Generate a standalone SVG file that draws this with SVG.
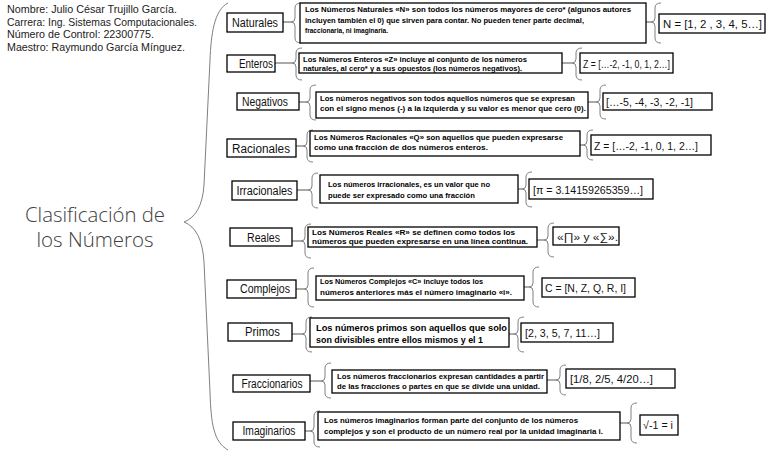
<svg xmlns="http://www.w3.org/2000/svg" width="768" height="452" viewBox="0 0 768 452">
<style>
.bx{fill:#fff;stroke:#000;stroke-width:1.3}
.lt{font-family:"Liberation Sans",Arial,sans-serif;font-size:12px;fill:#111;text-anchor:middle}
.dt{font-family:"Liberation Sans",Arial,sans-serif;font-size:7px;font-weight:bold;fill:#000}
.pt{font-family:"Liberation Sans",Arial,sans-serif;font-size:9.5px;font-weight:bold;fill:#000}
.rt{font-family:"Liberation Sans",Arial,sans-serif;font-size:11px;fill:#111}
.hd{font-family:"Liberation Sans",Arial,sans-serif;font-size:10.5px;fill:#222}
.tt{font-family:"Open Sans","Liberation Sans",sans-serif;font-size:20px;font-weight:300;fill:#404040;text-anchor:middle}
.br{fill:none;stroke:#808080;stroke-width:1}
.tk{fill:none;stroke:#555;stroke-width:1}
</style>
<rect width="768" height="452" fill="#fff"/>
<g id="header">
<text class="hd" x="7" y="13" textLength="170" lengthAdjust="spacingAndGlyphs">Nombre: Julio César Trujillo García.</text>
<text class="hd" x="7" y="25.5" textLength="190" lengthAdjust="spacingAndGlyphs">Carrera: Ing. Sistemas Computacionales.</text>
<text class="hd" x="7" y="38" textLength="147" lengthAdjust="spacingAndGlyphs">Número de Control: 22300775.</text>
<text class="hd" x="7" y="50.5" textLength="178" lengthAdjust="spacingAndGlyphs">Maestro: Raymundo García Mínguez.</text>
</g>
<g id="title">
<text class="tt" x="95" y="222" textLength="140" lengthAdjust="spacingAndGlyphs">Clasificación de</text>
<text class="tt" x="95" y="247" textLength="117" lengthAdjust="spacingAndGlyphs">los Números</text>
</g>
<g id="connectors">
<path class="br" d="M228,3 C214,10 211,35 210,60 L204,185 Q202,215 184,222 Q202,229 204,262 L210,392 C211,425 214,442 228,450"/>
<path class="br" d="M301,3 Q295,3 295,8 V18 Q295,22 291,22 Q295,22 295,26 V38 Q295,43 301,43"/><path class="tk" d="M283,22 H291"/>
<path class="br" d="M661,3 Q655,3 655,8 V18 Q655,22 651,22 Q655,22 655,26 V38 Q655,43 661,43"/><path class="tk" d="M646,22 H651"/>
<path class="br" d="M302,48 Q296,48 296,53 V59 Q296,63 292,63 Q296,63 296,67 V75 Q296,80 302,80"/><path class="tk" d="M275,63 H292"/>
<path class="br" d="M582,48 Q576,48 576,53 V59 Q576,63 572,63 Q576,63 576,67 V75 Q576,80 582,80"/><path class="tk" d="M562,63 H572"/>
<path class="br" d="M316,85 Q310,85 310,90 V98 Q310,102 306,102 Q310,102 310,106 V115 Q310,120 316,120"/><path class="tk" d="M299,102 H306"/>
<path class="br" d="M606,85 Q600,85 600,90 V98 Q600,102 596,102 Q600,102 600,106 V114 Q600,119 606,119"/><path class="tk" d="M588,102 H596"/>
<path class="br" d="M313,130 Q307,130 307,135 V142 Q307,146 303,146 Q307,146 307,150 V157 Q307,162 313,162"/><path class="tk" d="M296,146 H303"/>
<path class="br" d="M593,130 Q587,130 587,135 V141 Q587,145 583,145 Q587,145 587,149 V155 Q587,160 593,160"/><path class="tk" d="M580,145 H583"/>
<path class="br" d="M318,173 Q312,173 312,178 V186 Q312,190 308,190 Q312,190 312,194 V203 Q312,208 318,208"/><path class="tk" d="M297,190 H308"/>
<path class="br" d="M532,172 Q526,172 526,177 V185 Q526,189 522,189 Q526,189 526,193 V202 Q526,207 532,207"/><path class="tk" d="M518,189 H522"/>
<path class="br" d="M311,224 Q305,224 305,229 V237 Q305,241 301,241 Q305,241 305,245 V253 Q305,258 311,258"/><path class="tk" d="M292,241 H301"/>
<path class="br" d="M554,223 Q548,223 548,228 V236 Q548,240 544,240 Q548,240 548,244 V252 Q548,257 554,257"/><path class="tk" d="M537,240 H544"/>
<path class="br" d="M314,268 Q308,268 308,273 V285 Q308,289 304,289 Q308,289 308,293 V302 Q308,307 314,307"/><path class="tk" d="M296,289 H304"/>
<path class="br" d="M539,267 Q533,267 533,272 V283 Q533,287 529,287 Q533,287 533,291 V302 Q533,307 539,307"/><path class="tk" d="M524,287 H529"/>
<path class="br" d="M312,317 Q306,317 306,322 V330 Q306,334 302,334 Q306,334 306,338 V347 Q306,352 312,352"/><path class="tk" d="M292,334 H302"/>
<path class="br" d="M524,317 Q518,317 518,322 V330 Q518,334 514,334 Q518,334 518,338 V347 Q518,352 524,352"/><path class="tk" d="M509,334 H514"/>
<path class="br" d="M331,363 Q325,363 325,368 V377 Q325,381 321,381 Q325,381 325,385 V393 Q325,398 331,398"/><path class="tk" d="M310,381 H321"/>
<path class="br" d="M566,365 Q560,365 560,370 V376 Q560,380 556,380 Q560,380 560,384 V390 Q560,395 566,395"/><path class="tk" d="M547,380 H556"/>
<path class="br" d="M320,411 Q314,411 314,416 V427 Q314,431 310,431 Q314,431 314,435 V442 Q314,447 320,447"/><path class="tk" d="M305,431 H310"/>
<path class="br" d="M637,403 Q631,403 631,408 V419 Q631,423 627,423 Q631,423 631,427 V438 Q631,443 637,443"/><path class="tk" d="M620,423 H627"/>
</g>
<g id="naturales">
<rect class="bx" x="227" y="13" width="56" height="19"/>
<text class="lt" x="255" y="26.5" textLength="46" lengthAdjust="spacingAndGlyphs">Naturales</text>
</g>
<g id="naturales-desc">
<rect class="bx" x="300" y="3" width="346" height="40"/>
<text class="dt" x="305" y="12" textLength="326" lengthAdjust="spacingAndGlyphs">Los Números Naturales «N» son todos los números mayores de cero* (algunos autores</text>
<text class="dt" x="305" y="22.5" textLength="279" lengthAdjust="spacingAndGlyphs">incluyen también el 0) que sirven para contar. No pueden tener parte decimal,</text>
<text class="dt" x="305" y="33" textLength="83" lengthAdjust="spacingAndGlyphs">fraccionaria, ni imaginaria.</text>
</g>
<g id="naturales-set">
<rect class="bx" x="659" y="14" width="106" height="19"/>
<text class="rt" x="663" y="28" textLength="99" lengthAdjust="spacingAndGlyphs">N = [1, 2 , 3, 4, 5…]</text>
</g>
<g id="enteros">
<rect class="bx" x="227" y="55" width="48" height="17"/>
<text class="lt" x="256" y="67.5" textLength="34" lengthAdjust="spacingAndGlyphs">Enteros</text>
</g>
<g id="enteros-desc">
<rect class="bx" x="299" y="53" width="263" height="20"/>
<text class="dt" x="303" y="61.5" textLength="224" lengthAdjust="spacingAndGlyphs">Los Números Enteros «Z» incluye al conjunto de los números</text>
<text class="dt" x="303" y="70.5" textLength="219" lengthAdjust="spacingAndGlyphs">naturales, al cero* y a sus opuestos (los números negativos).</text>
</g>
<g id="enteros-set">
<rect class="bx" x="580" y="53" width="93" height="20"/>
<text class="rt" x="583" y="67.5" textLength="87" lengthAdjust="spacingAndGlyphs">Z = […-2, -1, 0, 1, 2…]</text>
</g>
<g id="negativos">
<rect class="bx" x="237" y="93" width="62" height="17"/>
<text class="lt" x="265" y="105.5" textLength="46" lengthAdjust="spacingAndGlyphs">Negativos</text>
</g>
<g id="negativos-desc">
<rect class="bx" x="316" y="92" width="272" height="26"/>
<text class="dt" x="320" y="101" textLength="255" lengthAdjust="spacingAndGlyphs">Los números negativos son todos aquellos números que se expresan</text>
<text class="dt" x="320" y="111" textLength="266" lengthAdjust="spacingAndGlyphs">con el signo menos (-) a la izquierda y su valor es menor que cero (0).</text>
</g>
<g id="negativos-set">
<rect class="bx" x="603" y="93" width="109" height="17"/>
<text class="rt" x="606" y="106" textLength="87" lengthAdjust="spacingAndGlyphs">[…-5, -4, -3, -2, -1]</text>
</g>
<g id="racionales">
<rect class="bx" x="227" y="139" width="69" height="18"/>
<text class="lt" x="261" y="152.5" textLength="58" lengthAdjust="spacingAndGlyphs">Racionales</text>
</g>
<g id="racionales-desc">
<rect class="bx" x="310" y="131" width="270" height="25"/>
<text class="dt" x="314" y="140" textLength="249" lengthAdjust="spacingAndGlyphs">Los Números Racionales «Q» son aquellos que pueden expresarse</text>
<text class="dt" x="314" y="150" textLength="174" lengthAdjust="spacingAndGlyphs">como una fracción de dos números enteros.</text>
</g>
<g id="racionales-set">
<rect class="bx" x="591" y="135" width="120" height="20"/>
<text class="rt" x="594" y="149.5" textLength="104" lengthAdjust="spacingAndGlyphs">Z = […-2, -1, 0, 1, 2…]</text>
</g>
<g id="irracionales">
<rect class="bx" x="232" y="181" width="65" height="19"/>
<text class="lt" x="264.5" y="195" textLength="56" lengthAdjust="spacingAndGlyphs">Irracionales</text>
</g>
<g id="irracionales-desc">
<rect class="bx" x="320" y="175" width="198" height="28"/>
<text class="dt" x="328" y="187" textLength="162" lengthAdjust="spacingAndGlyphs">Los números irracionales, es un valor que no</text>
<text class="dt" x="328" y="198" textLength="147" lengthAdjust="spacingAndGlyphs">puede ser expresado como una fracción</text>
</g>
<g id="irracionales-set">
<rect class="bx" x="529" y="179" width="124" height="20"/>
<text class="rt" x="533" y="194" textLength="110" lengthAdjust="spacingAndGlyphs">[π = 3.14159265359…]</text>
</g>
<g id="reales">
<rect class="bx" x="230" y="228" width="62" height="18"/>
<text class="lt" x="263.5" y="241.5" textLength="33" lengthAdjust="spacingAndGlyphs">Reales</text>
</g>
<g id="reales-desc">
<rect class="bx" x="308" y="227" width="229" height="20"/>
<text class="dt" x="312" y="235" textLength="203" lengthAdjust="spacingAndGlyphs">Los Números Reales «R» se definen como todos los</text>
<text class="dt" x="312" y="244" textLength="216" lengthAdjust="spacingAndGlyphs">números que pueden expresarse en una línea continua.</text>
</g>
<g id="reales-set">
<rect class="bx" x="553" y="227" width="66" height="18"/>
<text class="rt" x="557" y="240.5" textLength="61" lengthAdjust="spacingAndGlyphs">«∏» y «∑».</text>
</g>
<g id="complejos">
<rect class="bx" x="227" y="280" width="69" height="18"/>
<text class="lt" x="265" y="293" textLength="50" lengthAdjust="spacingAndGlyphs">Complejos</text>
</g>
<g id="complejos-desc">
<rect class="bx" x="316" y="276" width="208" height="24"/>
<text class="dt" x="320" y="284" textLength="163" lengthAdjust="spacingAndGlyphs">Los Números Complejos «C» incluye todos los</text>
<text class="dt" x="320" y="294.5" textLength="192" lengthAdjust="spacingAndGlyphs">números anteriores más el número imaginario «i».</text>
</g>
<g id="complejos-set">
<rect class="bx" x="542" y="278" width="93" height="19"/>
<text class="rt" x="545" y="292" textLength="81" lengthAdjust="spacingAndGlyphs">C = [N, Z, Q, R, I]</text>
</g>
<g id="primos">
<rect class="bx" x="228" y="323" width="64" height="18"/>
<text class="lt" x="262.5" y="336" textLength="35" lengthAdjust="spacingAndGlyphs">Primos</text>
</g>
<g id="primos-desc">
<rect class="bx" x="310" y="318" width="199" height="29"/>
<text class="pt" x="316" y="331" textLength="191" lengthAdjust="spacingAndGlyphs">Los números primos son aquellos que solo</text>
<text class="pt" x="316" y="343" textLength="167" lengthAdjust="spacingAndGlyphs">son divisibles entre ellos mismos y el 1</text>
</g>
<g id="primos-set">
<rect class="bx" x="521" y="323" width="92" height="19"/>
<text class="rt" x="525" y="337" textLength="75" lengthAdjust="spacingAndGlyphs">[2, 3, 5, 7, 11…]</text>
</g>
<g id="fraccionarios">
<rect class="bx" x="233" y="375" width="77" height="17"/>
<text class="lt" x="272" y="388" textLength="61" lengthAdjust="spacingAndGlyphs">Fraccionarios</text>
</g>
<g id="fraccionarios-desc">
<rect class="bx" x="332" y="370" width="215" height="23"/>
<text class="dt" x="337" y="379" textLength="207" lengthAdjust="spacingAndGlyphs">Los números fraccionarios expresan cantidades a partir</text>
<text class="dt" x="337" y="389" textLength="203" lengthAdjust="spacingAndGlyphs">de las fracciones o partes en que se divide una unidad.</text>
</g>
<g id="fraccionarios-set">
<rect class="bx" x="566" y="369" width="109" height="19"/>
<text class="rt" x="570" y="383" textLength="83" lengthAdjust="spacingAndGlyphs">[1/8, 2/5, 4/20…]</text>
</g>
<g id="imaginarios">
<rect class="bx" x="233" y="422" width="72" height="18"/>
<text class="lt" x="269" y="435" textLength="53" lengthAdjust="spacingAndGlyphs">Imaginarios</text>
</g>
<g id="imaginarios-desc">
<rect class="bx" x="318" y="412" width="302" height="28"/>
<text class="dt" x="324" y="423" textLength="254" lengthAdjust="spacingAndGlyphs">Los números imaginarios forman parte del conjunto de los números</text>
<text class="dt" x="324" y="434" textLength="279" lengthAdjust="spacingAndGlyphs">complejos y son el producto de un número real por la unidad imaginaria i.</text>
</g>
<g id="imaginarios-set">
<rect class="bx" x="640" y="415" width="38" height="20"/>
<text class="rt" x="643" y="429" textLength="30" lengthAdjust="spacingAndGlyphs">√-1 = i</text>
</g>
</svg>
